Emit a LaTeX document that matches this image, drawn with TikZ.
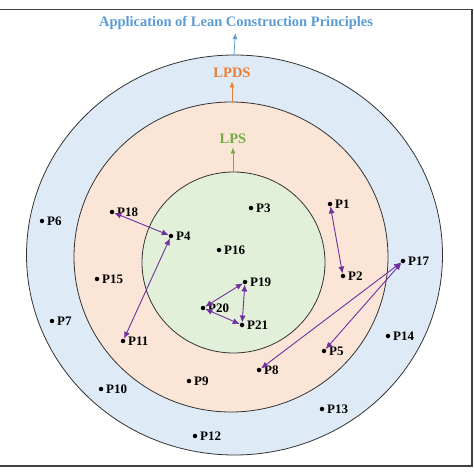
\documentclass[tikz,border=0pt]{standalone}
\usepackage{fontspec}
\setmainfont{Liberation Serif}
\usetikzlibrary{arrows.meta}
\definecolor{ringblue}{HTML}{DEEBF7}
\definecolor{ringpeach}{HTML}{FBE5D6}
\definecolor{ringgreen}{HTML}{E2F0D9}
\definecolor{txtblue}{HTML}{5B9BD5}
\definecolor{txtorange}{HTML}{ED7D31}
\definecolor{txtgreen}{HTML}{70AD47}
\definecolor{linkpurple}{HTML}{7030A0}
\tikzset{
	pnt/.style={circle, fill=black, inner sep=0pt, minimum size=4.5pt},
	plabel/.style={font=\bfseries\fontsize{13}{14}\selectfont, inner sep=1pt, label distance=1.5pt},
	link/.style={{Latex[length=7pt,width=6pt]}-{Latex[length=7pt,width=6pt]}, linkpurple, line width=0.9pt},
	ring/.style={draw=black!80, line width=0.8pt},
	head/.style={font=\bfseries\fontsize{14.5}{16}\selectfont}
}
\begin{document}
\begin{tikzpicture}[x=1pt,y=-1pt]
		\useasboundingbox (0,0) rectangle (474,474);
		\draw[black!75, line width=1.6pt] (0,9.5) -- (472,9.5) -- (472,466) -- (0,466);
		\draw[ring, fill=ringblue] (234.5,255) ellipse (208pt and 200pt);
		\draw[ring, fill=ringpeach] (231,257) ellipse (157pt and 155pt);
		\draw[ring, fill=ringgreen] (233.5,262.5) ellipse (91.5pt and 90.5pt);
		\coordinate (outertop) at (234,55);
		\coordinate (midtop) at (232,102);
		\coordinate (innertop) at (233,172);
		\node[txtblue, head] (title) at (236,23) {Application of Lean Construction Principles};
		\node[txtorange, head] (lpds) at (232,73) {LPDS};
		\node[txtgreen, head] (lps) at (233,139) {LPS};
		\draw[-{Latex[length=6pt,width=5pt]}, txtblue, line width=0.8pt] (outertop) -- (title);
		\draw[-{Latex[length=6pt,width=5pt]}, txtorange, line width=0.8pt] (midtop) -- (lpds);
		\draw[-{Latex[length=6pt,width=5pt]}, txtgreen, line width=0.8pt] (innertop) -- (lps);
		% points
		\node[pnt, label={[plabel]right:P1}] (p1) at (330,204) {};
		\node[pnt, label={[plabel]right:P2}] (p2) at (343,276) {};
		\node[pnt, label={[plabel]right:P3}] (p3) at (251,208) {};
		\node[pnt, label={[plabel]right:P4}] (p4) at (171,236) {};
		\node[pnt, label={[plabel]right:P5}] (p5) at (324,351) {};
		\node[pnt, label={[plabel]right:P6}] (p6) at (42,221) {};
		\node[pnt, label={[plabel]right:P7}] (p7) at (52,321) {};
		\node[pnt, label={[plabel]right:P8}] (p8) at (259,370) {};
		\node[pnt, label={[plabel]right:P9}] (p9) at (189,381) {};
		\node[pnt, label={[plabel]right:P10}] (p10) at (101,389) {};
		\node[pnt, label={[plabel]right:P11}] (p11) at (123,341) {};
		\node[pnt, label={[plabel]right:P12}] (p12) at (195,436) {};
		\node[pnt, label={[plabel]right:P13}] (p13) at (322,409) {};
		\node[pnt, label={[plabel]right:P14}] (p14) at (388,336) {};
		\node[pnt, label={[plabel]right:P15}] (p15) at (97,279) {};
		\node[pnt, label={[plabel]right:P16}] (p16) at (219,250) {};
		\node[pnt, label={[plabel]right:P17}] (p17) at (403,261) {};
		\node[pnt, label={[plabel]right:P18}] (p18) at (112,212) {};
		\node[pnt, label={[plabel]right:P19}] (p19) at (245,282) {};
		\node[pnt, label={[plabel]right:P20}] (p20) at (203,308) {};
		\node[pnt, label={[plabel]right:P21}] (p21) at (242,325) {};
		% links
		\draw[link] (p18) -- (p4);
		\draw[link] (p4) -- (p11);
		\draw[link] (p1) -- (p2);
		\draw[link] (p19) -- (p20);
		\draw[link] (p20) -- (p21);
		\draw[link] (p19) -- (p21);
		\draw[link] (p17) -- (p8);
		\draw[link] (p17) -- (p5);
	\end{tikzpicture}
\end{document}
